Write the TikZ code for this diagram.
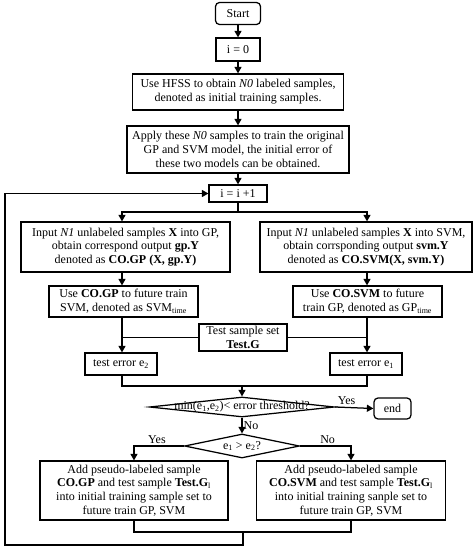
\documentclass[tikz,border=0pt]{standalone}
\usepackage{fontspec}
\setmainfont{Liberation Serif}
\usetikzlibrary{shapes.geometric,arrows.meta}
\begin{document}
\begin{tikzpicture}[x=1pt,y=-1pt,
  every node/.style={font=\fontsize{12}{13.8}\selectfont},
  box/.style={draw, line width=1.25pt, align=center, inner sep=0pt},
  term/.style={box, rounded corners=4pt},
  dia/.style={diamond, draw, line width=1.25pt, inner sep=0pt},
  link/.style={line width=1.25pt},
  arr/.style={link, -{Triangle[length=6.5pt,width=7pt]}},
  lbl/.style={inner sep=1pt}
]
\useasboundingbox (0,0) rectangle (474,548);
\coordinate (colL) at (122,0);
\coordinate (colR) at (367,0);

\node[term, minimum width=45pt, minimum height=22pt] (start) at (238,13.5) {Start};
\node[box, minimum width=44pt, minimum height=23pt] (i0) at (238,49.5) {i = 0};
\node[box, minimum width=211pt, minimum height=36pt] (hfss) at (238,92) {Use HFSS to obtain \textit{N0} labeled samples,\\ denoted as initial training samples.};
\node[box, minimum width=222pt, minimum height=47pt] (apply) at (238,149.5) {Apply these \textit{N0} samples to train the original\\ GP and SVM model, the initial error of\\ these two models can be obtained.};
\node[box, minimum width=58pt, minimum height=17pt] (inc) at (238,193.5) {i = i +1};

\node[box, minimum width=209pt, minimum height=50pt] (ingp) at (125.5,247) {Input \textit{N1} unlabeled samples \textbf{X} into GP,\\ obtain correspond output \textbf{gp.Y}\\ denoted as \textbf{CO.GP (X, gp.Y)}};
\node[box, minimum width=212pt, minimum height=50pt] (insvm) at (366,247) {Input \textit{N1} unlabeled samples \textbf{X} into SVM,\\ obtain corrsponding output \textbf{svm.Y}\\ denoted as \textbf{CO.SVM(X, svm.Y)}};

\node[box, minimum width=149pt, minimum height=31pt] (usegp) at (123.5,301.5) {Use \textbf{CO.GP} to future train\\ SVM, denoted as SVM\textsubscript{time}};
\node[box, minimum width=149pt, minimum height=31pt] (usesvm) at (367.5,301.5) {Use \textbf{CO.SVM} to future\\ train GP, denoted as GP\textsubscript{time}};

\node[box, minimum width=88pt, minimum height=27pt] (test) at (243,337.5) {Test sample set\\ \textbf{Test.G}};

\node[box, minimum width=72pt, minimum height=22pt] (e2) at (121,364) {test error e\textsubscript{2}};
\node[box, minimum width=72pt, minimum height=22pt] (e1) at (366,364) {test error e\textsubscript{1}};

\node[dia, minimum width=185pt, minimum height=20pt, label={center:min(e\textsubscript{1},e\textsubscript{2})< error threshold?}] (d1) at (242,407) {};
\node[term, minimum width=37pt, minimum height=21pt] (end) at (392.5,408.5) {end};

\node[dia, minimum width=115pt, minimum height=24pt, label={center:e\textsubscript{1} > e\textsubscript{2}?}] (d2) at (242,446) {};

\node[box, minimum width=188pt, minimum height=59pt] (bl) at (134,490.5) {Add pseudo-labeled sample\\ \textbf{CO.GP} and test sample \textbf{Test.G}\textsubscript{l}\\ into initial training sample set to\\ future train GP, SVM};
\node[box, minimum width=189pt, minimum height=59pt] (br) at (351,490.5) {Add pseudo-labeled sample\\ \textbf{CO.SVM} and test sample \textbf{Test.G}\textsubscript{l}\\ into initial training sanple set to\\ future train GP, SVM};

\draw[arr] (start.south) -- (i0.north);
\draw[arr] (i0.south) -- (hfss.north);
\draw[arr] (hfss.south) -- (apply.north);
\draw[arr] (apply.south) -- (inc.north);
\coordinate (fork) at (238,212);
\draw[link] (inc.south) -- (fork);
\draw[arr] (fork) -| (ingp.north -| colL);
\draw[arr] (fork) -| (insvm.north -| colR);
\draw[arr] (ingp.south -| colL) -- (usegp.north -| colL);
\draw[arr] (insvm.south -| colR) -- (usesvm.north -| colR);
\draw[arr] (usegp.south -| colL) -- (e2.north -| colL);
\draw[arr] (usesvm.south -| colR) -- (e1.north -| colR);
\draw[link] (test.west) -- (test.west -| colL);
\draw[link] (test.east) -- (test.east -| colR);
\coordinate (jn) at (242,386);
\draw[link] (e2.south -| colL) |- (jn) -| (e1.south -| colR);
\draw[arr] (jn) -- (d1.north);
\draw[arr] (d1.east) -- (end.west) node[lbl, pos=0.3, above=1pt] {Yes};
\draw[arr] (d1.south) -- (d2.north) node[lbl, midway, right] {No};
\draw[arr] (d2.west) -| (bl.north) node[lbl, pos=0.27, above=1pt] {Yes};
\draw[arr] (d2.east) -| (br.north) node[lbl, pos=0.27, above=1pt] {No};
\coordinate (mj) at (243,532);
\coordinate (lp1) at (243,545);
\coordinate (lp2) at (5,545);
\draw[link] (bl.south) |- (mj) -| (br.south);
\draw[arr] (mj) -- (lp1) -- (lp2) |- (inc.west);
\end{tikzpicture}
\end{document}
